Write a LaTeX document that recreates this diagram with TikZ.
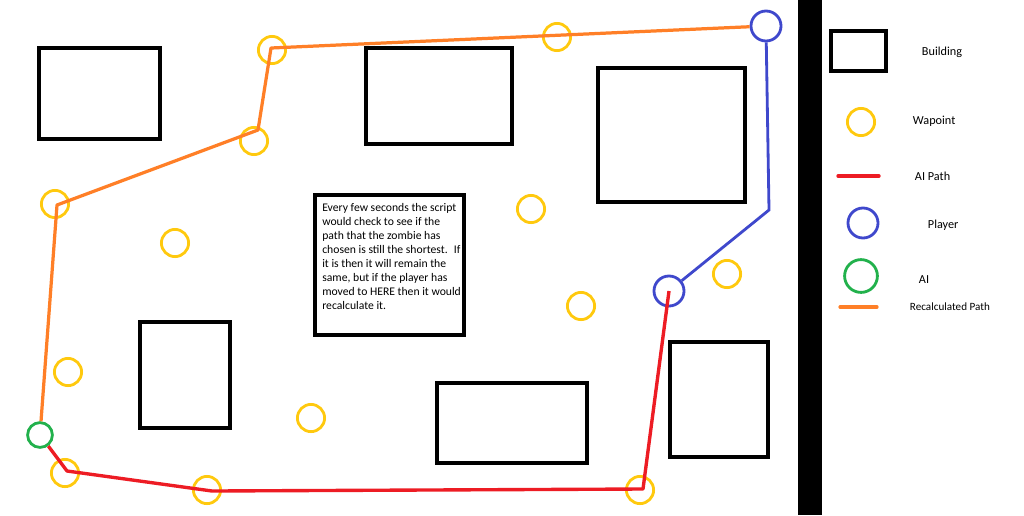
\documentclass[tikz,border=0pt]{standalone}
\usepackage{fontspec}
\setmainfont{Carlito}
\usetikzlibrary{positioning}
\definecolor{wpyellow}{RGB}{255,201,14}
\definecolor{pathred}{RGB}{237,28,36}
\definecolor{playerblue}{RGB}{63,72,204}
\definecolor{aigreen}{RGB}{34,177,76}
\definecolor{recalcorange}{RGB}{255,127,39}

\begin{document}
\begin{tikzpicture}[x=0.025cm,y=-0.025cm,
  building/.style={draw,line width=2.8pt},
  waypoint/.style={circle,draw=wpyellow,line width=2pt,minimum size=0.68cm,inner sep=0},
  player/.style={circle,draw=playerblue,line width=2pt,minimum size=0.75cm,inner sep=0},
  ai/.style={circle,draw=aigreen,line width=2pt,minimum size=0.62cm,inner sep=0},
  aipath/.style={draw=pathred,line width=2.4pt,line join=round},
  recalc/.style={draw=recalcorange,line width=2.3pt,line join=round},
  legend/.style={font=\fontsize{8.7}{10}\selectfont,anchor=west}]

  \useasboundingbox (0,0) rectangle (1024,515);
  \fill (798,0) rectangle (822,515);

  % buildings
  \draw[building] (39,48) rectangle (160,139);
  \draw[building] (366,48) rectangle (512,144);
  \draw[building] (598,68) rectangle (745,202);
  \draw[building] (140,322) rectangle (230,428);
  \draw[building] (437,383) rectangle (587,463);
  \draw[building] (670,342) rectangle (768,457);

  % note
  \draw[building] (315,195) rectangle (464,335);
  \node[anchor=north west,align=left,inner sep=0,font=\fontsize{8.3}{9.95}\selectfont] (note) at (322,203)
    {Every few seconds the script\\would check to see if the\\path that the zombie has\\chosen is still the shortest.~ If\\it is then it will remain the\\same, but if the player has\\moved to HERE then it would\\recalculate it.};

  % waypoints
  \node[waypoint] (w1) at (272,50) {};
  \node[waypoint] (w2) at (557,37) {};
  \node[waypoint] (w3) at (254,141) {};
  \node[waypoint] (w4) at (55,204) {};
  \node[waypoint] (w5) at (175,243) {};
  \node[waypoint] (w6) at (531,209) {};
  \node[waypoint] (w7) at (727,274) {};
  \node[waypoint] (w8) at (581,306) {};
  \node[waypoint] (w9) at (68,372) {};
  \node[waypoint] (w10) at (311,418) {};
  \node[waypoint] (w11) at (65,473) {};
  \node[waypoint] (w12) at (207,490) {};
  \node[waypoint] (w13) at (640,490) {};

  % player and ai
  \node[player] (p1) at (766,26) {};
  \node[player] (p2) at (669,291) {};
  \node[ai] (ai) at (40,435) {};

  \coordinate (r1) at (67,471);
  \coordinate (r2) at (212,491);
  \coordinate (r3) at (643,489);
  \coordinate (o1) at (57,205);
  \coordinate (o2) at (258,130);
  \coordinate (o3) at (271,48);
  \coordinate (b1) at (769,210);

  \draw[aipath] (ai) -- (r1) -- (r2) -- (r3) -- (p2.center);
  \draw[recalc] (ai) -- (o1) -- (o2) -- (o3) -- (p1);
  \draw[draw=playerblue,line width=2pt] (p1) -- (b1) -- (p2);

  % legend
  \draw[building] (831,31) rectangle (886,71);
  \node[legend] (lb) at (917,52) {Building};
  \node[waypoint] (lw) at (861,122) {};
  \node[legend] (lwt) at (908,121) {Wapoint};
  \coordinate (lr1) at (838,176);
  \coordinate (lr2) at (879,176);
  \draw[aipath,line cap=round] (lr1) -- (lr2);
  \node[legend] (lrt) at (910,176) {AI Path};
  \node[player] (lp) at (863,223) {};
  \node[legend] (lpt) at (923,225) {Player};
  \node[ai,minimum size=0.82cm] (la) at (861,276) {};
  \node[legend] (lat) at (914,280) {AI};
  \coordinate (lo1) at (840,307);
  \coordinate (lo2) at (877,307);
  \draw[recalc,line cap=round] (lo1) -- (lo2);
  \node[legend,font=\fontsize{7.9}{9}\selectfont] (lot) at (905,307) {Recalculated Path};
\end{tikzpicture}
\end{document}
